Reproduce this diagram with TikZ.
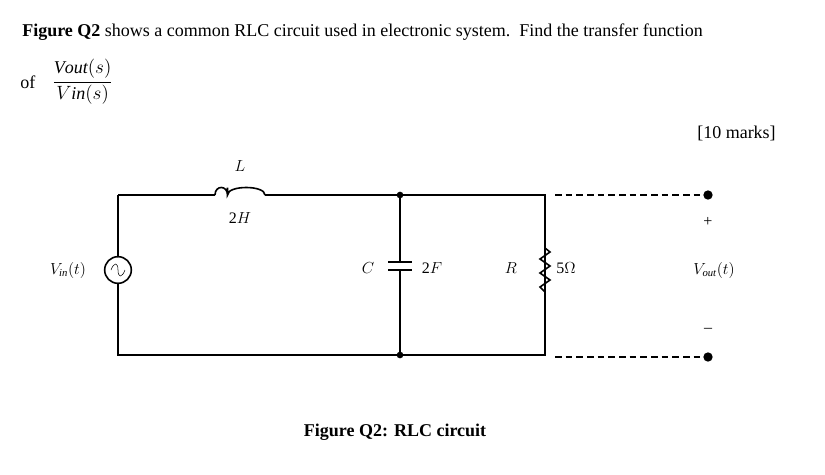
\documentclass[tikz,border=0pt]{standalone}
\usepackage{fontspec}
\setmainfont{Liberation Serif}
\begin{document}
\begin{tikzpicture}[x=0.75pt,y=-0.75pt,
  txt/.style={inner sep=0pt,font=\fontsize{13.5}{16}\selectfont},
  lbl/.style={inner sep=0pt,font=\fontsize{12}{14}\selectfont},
  wire/.style={line width=1.2pt},
  dashwire/.style={line width=2pt,dash pattern=on 5pt off 3pt},
  dot/.style={circle,fill=black,inner sep=0pt,minimum size=7pt}]
\useasboundingbox (0,0) rectangle (825,475);
\node[txt,anchor=west] (title) at (22,32) {\textbf{Figure Q2} shows a common RLC circuit used in electronic system.\ \ Find the transfer function};
\node[txt,anchor=west] (of) at (20,82) {of};
\node[txt,anchor=west] (frac) at (52,82) {$\displaystyle\frac{\mathit{Vout}(s)}{V\mathit{in}(s)}$};
\node[txt,anchor=east] (marks) at (776,133) {[10 marks]};
% nodes
\coordinate (tl) at (118,195);
\coordinate (bl) at (118,355);
\coordinate (l1) at (215,195);
\coordinate (l2) at (265,195);
\coordinate (tc) at (400,195);
\coordinate (bc) at (400,355);
\coordinate (tr) at (545,195);
\coordinate (br) at (545,355);
\node[draw,circle,line width=1.2pt,minimum size=20pt,inner sep=0pt] (src) at (118,270) {};
\draw (111,270) .. controls (114,262) and (118,262) .. (118,270) .. controls (118,278) and (122,278) .. (125,270);
\draw[wire] (tl) -- (src.north) (src.south) -- (bl) -- (br) -- (tr) -- (l2);
\draw[wire] (tl) -- (l1);
\draw[wire] (l1) .. controls +(0,-10) and +(0,-10) .. +(12.5,0)
  .. controls +(0,-10) and +(0,-10) .. +(12.5,0)
  .. controls +(0,-10) and +(0,-10) .. +(12.5,0)
  .. controls +(0,-10) and +(0,-10) .. (l2);
% capacitor
\coordinate (c1) at (400,262);
\coordinate (c2) at (400,270);
\draw[wire] (tc) -- (c1) (c2) -- (bc);
\draw[wire] (388,262) -- (412,262) (388,270) -- (412,270);
\node[dot,minimum size=5pt] at (tc) {};
\node[dot,minimum size=5pt] at (bc) {};
% resistor
\draw[wire] (545,248) -- (550,252) -- (540,259) -- (550,266) -- (540,273) -- (550,280) -- (540,287) -- (545,292);
% outputs
\node[dot] (o1) at (708,195) {};
\node[dot] (o2) at (708,357) {};
\coordinate (d1) at (555,195);
\coordinate (d2) at (555,357);
\draw[dashwire] (d1) -- (o1);
\draw[dashwire] (d2) -- (o2);
% labels
\node[lbl] (Ll) at (240,166) {$L$};
\node[lbl] (Lv) at (240,218) {2$H$};
\node[lbl] (vin) at (68,270) {$V_{\mathit{in}}(t)$};
\node[lbl] (Cl) at (368,268) {$C$};
\node[lbl] (Cv) at (432,268) {2$F$};
\node[lbl] (Rl) at (511,268) {$R$};
\node[lbl] (Rv) at (566,268) {5$\Omega$};
\node[lbl] (pl) at (708,222) {+};
\node[lbl] (mi) at (708,330) {--};
\node[lbl] (vout) at (714,270) {$V_{\mathit{out}}(t)$};
\node[txt] (cap) at (395,432) {\textbf{Figure Q2: RLC circuit}};
\end{tikzpicture}
\end{document}
